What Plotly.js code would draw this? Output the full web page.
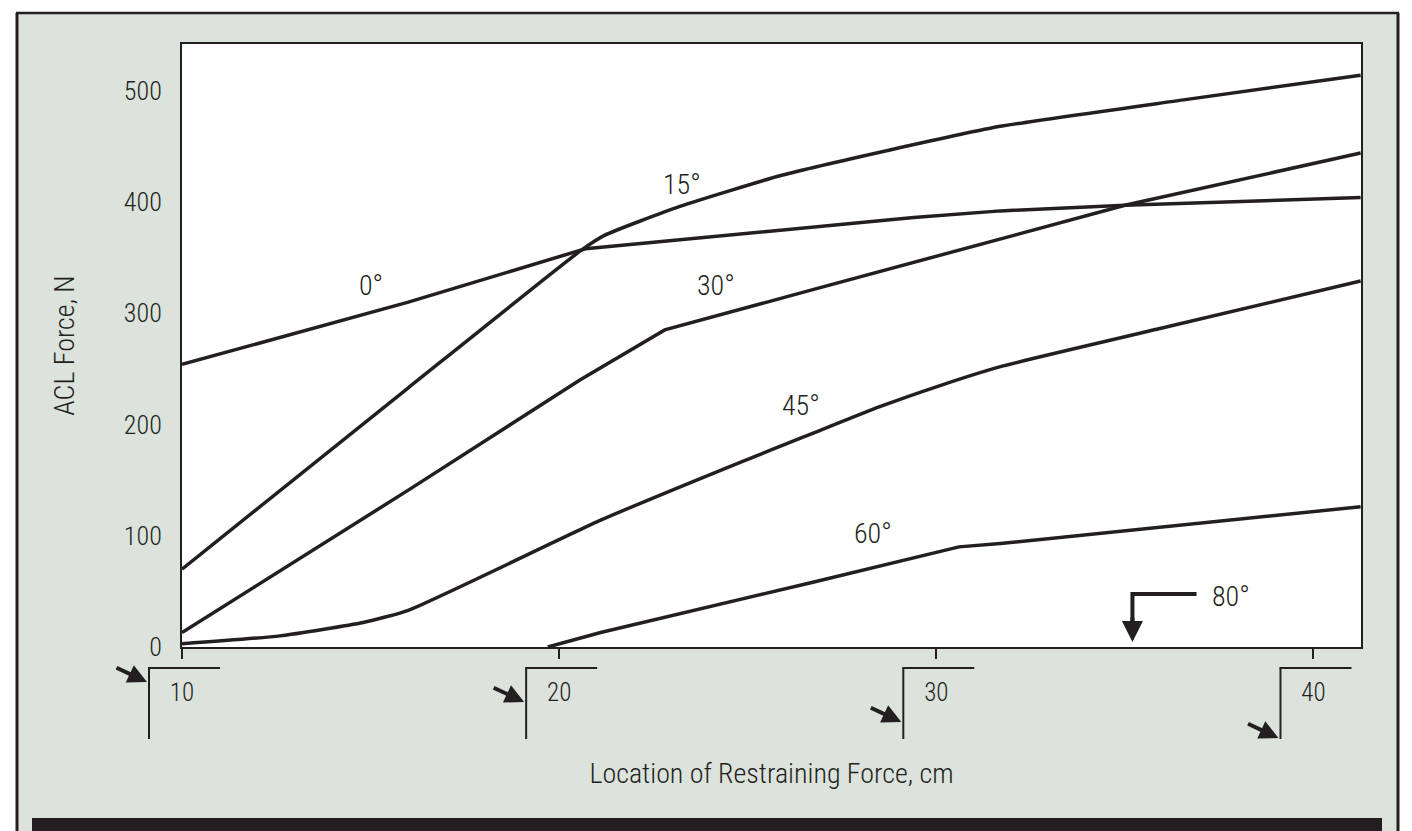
<!DOCTYPE html>
<html><head><meta charset="utf-8">
<script src="https://cdn.plot.ly/plotly-3.0.1.min.js"></script>
<style>html,body{margin:0;padding:0;background:#fff}#chart{width:1412px;height:831px}</style>
</head><body><div id="chart"></div>
<script>
// ---------------- data ----------------
const xTicks = [10, 20, 30, 40];
const xTickLabels = ['10', '20', '30', '40'];
const yTicks = [0, 100, 200, 300, 400, 500];
const yTickLabels = ['0', '100', '200', '300', '400', '500'];

const x0  = [10, 16.0, 20.7, 25.0, 29.4, 31.7, 35.0, 41.25];
const y0  = [254, 310, 358, 372, 386, 392, 397, 404];

const x15 = [10, 16.0, 20.6, 21.2, 23.2, 25.9, 28.8, 31.7, 36.6, 41.25];
const y15 = [70, 233, 357, 370, 396, 424, 447, 468, 492, 514];

const x30 = [10, 16.0, 20.55, 22.8, 26.7, 30.6, 35.0, 41.25];
const y30 = [13, 141, 240, 285, 321, 357, 397, 444];

const x45 = [10, 12.6, 14.8, 16.0, 21.1, 24.8, 26.5, 28.5, 30.1, 31.7, 35.9, 41.25];
const y45 = [3, 10, 22, 33, 114, 166, 189, 216, 235, 252, 286, 329];

const x60 = [19.7, 21.1, 26.7, 30.6, 31.7, 41.25];
const y60 = [0, 13, 58, 90, 93, 126];

const curveLabels = ['0°', '15°', '30°', '45°', '60°', '80°'];
const curveLabelX = [15.0, 23.27, 24.16, 26.41, 28.32, 37.82];
const curveLabelY = [324.5, 416, 324.5, 217.5, 101.6, 45.8];

// 80° curve: marker arrow pointing at zero force
const arrow80X = 35.2, arrow80Y = 47.6, arrow80XEnd = 36.9, arrow80Tip = 4.5;

const xTitle = 'Location of Restraining Force, cm';
const yTitle = 'ACL Force, N';

// ---------------- geometry / style ----------------
const FIG_W = 1412, FIG_H = 831, ML = 182, MR = 51, MT = 44, MB = 184;
const PW = FIG_W - ML - MR, PH = FIG_H - MT - MB;
const X_RANGE = [10, 41.26], Y_RANGE = [0, 542];
const INK = '#231f20', BG = '#dce3dc';
const FONT = '"Roboto Condensed", "Liberation Sans Narrow", "Arial Narrow", "DejaVu Sans Condensed", sans-serif';
const W = 300;

const tickPx = v => ML + (v - X_RANGE[0]) / (X_RANGE[1] - X_RANGE[0]) * PW;
const pX = p => (p - ML) / PW;            // pixel -> paper x
const pY = p => (MT + PH - p) / PH;       // pixel -> paper y

function mk(x, y, smooth) {
  const line = {color: INK, width: 3.5};
  if (smooth) { line.shape = 'spline'; line.smoothing = smooth; }
  return {x: x, y: y, type: 'scatter', mode: 'lines', showlegend: false,
          hoverinfo: 'skip', line: line};
}
const traces = [mk(x0, y0), mk(x15, y15, 0.5), mk(x30, y30), mk(x45, y45, 0.5), mk(x60, y60)];

const shapes = [];
const paperRect = (x0p, y0p, x1p, y1p, fill) => shapes.push({type: 'rect', xref: 'paper', yref: 'paper', layer: 'above',
  x0: pX(x0p), x1: pX(x1p), y0: pY(y0p), y1: pY(y1p), fillcolor: fill, line: {width: 0}});
const paperLine = (x0p, y0p, x1p, y1p, w) => shapes.push({type: 'line', xref: 'paper', yref: 'paper', layer: 'above',
  x0: pX(x0p), x1: pX(x1p), y0: pY(y0p), y1: pY(y1p), line: {color: INK, width: w}});

// white margin outside the framed panel
paperRect(0, 0, 16, FIG_H, '#ffffff');
paperRect(0, 0, FIG_W, 12, '#ffffff');
paperRect(1399, 0, FIG_W, FIG_H, '#ffffff');
// panel frame
paperLine(17, 13, 17, FIG_H + 2, 3);
paperLine(16, 13, 1399, 13, 2.5);
paperLine(1398, 13, 1398, FIG_H + 2, 3);
// bottom caption bar
paperRect(32, 818, 1382, FIG_H + 2, INK);

// bracket glyphs under each tick label
const arrowTipPx = [682, 702, 722, 738];
const annotations = [];
xTicks.forEach((v, i) => {
  const t = tickPx(v);
  paperLine(t - 33, 668, t - 33, 739, 2);
  paperLine(t - 34, 668, t + 38, 668, 2);
  annotations.push({xref: 'paper', yref: 'paper', x: pX(t - 35), y: pY(arrowTipPx[i]),
    ax: -32, ay: -15, text: '', showarrow: true, arrowhead: 2, arrowsize: 0.95,
    arrowwidth: 4, arrowcolor: INK, standoff: 0});
});

// 80° marker
shapes.push({type: 'path', xref: 'x', yref: 'y', layer: 'above',
  path: `M ${arrow80XEnd},${arrow80Y} L ${arrow80X},${arrow80Y} L ${arrow80X},${arrow80Tip + 18}`,
  line: {color: INK, width: 4}});
annotations.push({xref: 'x', yref: 'y', x: arrow80X, y: arrow80Tip, ax: 0, ay: -26, text: '',
  showarrow: true, arrowhead: 2, arrowsize: 1.05, arrowwidth: 4, arrowcolor: INK, standoff: 0});

curveLabels.forEach((s, i) => annotations.push({xref: 'x', yref: 'y', x: curveLabelX[i], y: curveLabelY[i],
  text: s, showarrow: false, font: {family: FONT, size: 28, color: INK, weight: W}}));

const layout = {
  width: FIG_W, height: FIG_H,
  margin: {l: ML, r: MR, t: MT, b: MB, pad: 0},
  paper_bgcolor: BG, plot_bgcolor: '#ffffff',
  font: {family: FONT, color: INK, weight: W},
  showlegend: false,
  xaxis: {range: X_RANGE, tickvals: xTicks, ticktext: xTickLabels, ticks: 'outside', ticklen: 10,
    tickwidth: 2, tickcolor: INK, showgrid: false, zeroline: false, showline: true, mirror: true,
    linecolor: INK, linewidth: 2, ticklabelstandoff: 12,
    tickfont: {family: FONT, size: 25, color: INK, weight: W},
    title: {text: xTitle, font: {family: FONT, size: 28, color: INK, weight: W}, standoff: 57}},
  yaxis: {range: Y_RANGE, tickvals: yTicks, ticktext: yTickLabels, ticks: '', showgrid: false,
    zeroline: false, showline: true, mirror: true, linecolor: INK, linewidth: 2, ticklabelstandoff: 13,
    tickfont: {family: FONT, size: 26, color: INK, weight: W},
    title: {text: yTitle, font: {family: FONT, size: 28, color: INK, weight: W}, standoff: 41}},
  shapes: shapes, annotations: annotations
};

Plotly.newPlot('chart', traces, layout, {displayModeBar: false, staticPlot: true});
</script></body></html>
